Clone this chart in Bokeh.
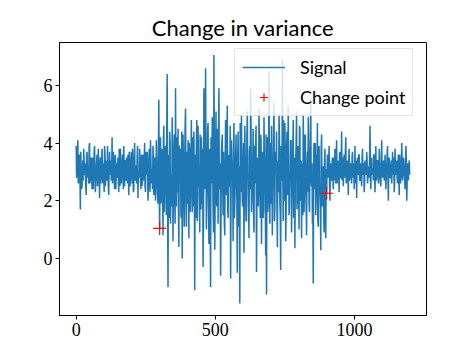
from bokeh.plotting import figure
from bokeh.models import Range1d, FixedTicker
from bokeh.embed import file_html
from bokeh.resources import INLINE

# ---- data ----
# samples at x = 0, 3, 6, ...
step = 3
seg_low1 = [3.9, 3.2, 4.1, 2.7, 3.6, 1.7, 3.0, 2.5, 3.4, 3.8, 2.9, 3.3, 2.2, 3.7, 3.1, 2.6, 4.0, 2.8, 3.5, 2.4,
            3.2, 2.9, 3.9, 2.3, 3.0, 3.6, 2.7, 3.3, 2.1, 3.5, 2.9, 3.8, 2.6, 3.1, 3.9, 2.5, 3.4, 2.8, 3.0, 2.2,
            3.7, 3.2, 2.7, 4.2, 2.9, 3.3, 2.4, 3.6, 3.0, 2.8, 3.5, 2.3, 3.1, 3.8, 2.6, 3.2, 2.9, 3.9, 2.5, 3.4,
            2.7, 3.0, 3.6, 2.2, 3.3, 2.9, 3.7, 2.6, 3.1, 2.4, 4.0, 2.8, 3.2, 3.5, 2.1, 3.0, 3.8, 2.7, 3.3, 2.5,
            3.6, 2.9, 4.0, 2.3, 3.2, 3.7, 2.0, 3.4, 2.8, 4.1, 2.6, 3.1, 3.9, 2.2, 3.5, 2.0, 4.1, 2.7, 1.9, 5.5]
seg_high = [1.04, 4.2, 2.1, 3.5, 0.8, 4.6, 2.4, 3.9, 1.5, 6.4,
            -1.0, 3.3, 4.4, 1.2, 2.8, 4.9, 0.6, 3.6, 2.2, 5.9,
            1.8, 3.1, 4.5, 0.4, 2.6, 3.8, 1.4, 0.0, 4.3, 2.0,
            3.4, 5.2, 1.1, 2.9, 4.1, 0.7, 3.7, 2.3, 4.8, 1.6,
            3.0, 4.4, -1.1, 2.7, 3.9, 1.3, 4.6, 2.5, 0.9, 3.6,
            4.2, 1.9, -0.3, 5.9, 2.4, 6.6, 1.0, 3.2, 4.7, 0.5,
            3.8, -1.0, 2.6, 4.9, 1.7, 7.06, 0.3, 3.4, 2.1, 4.5,
            1.2, 5.9, 2.8, -0.6, 3.7, 4.3, 1.5, 2.9, 0.8, 4.8,
            2.2, 5.3, 1.4, 3.6, 2.5, -0.7, 4.1, 3.0, 0.6, 4.7,
            1.9, 3.5, 2.7, -0.5, 4.4, 1.1, -1.56, 3.8, 5.0, 2.0,
            3.3, 0.2, 4.6, 2.4, 1.3, 5.1, 2.9, 0.7, 3.9, 5.9,
            1.6, 3.2, 4.5, 0.9, 2.6, 4.0, -0.47, 3.5, 1.8, 5.2,
            2.3, 4.3, 0.5, 3.7, 1.4, 4.9, 2.8, 0.1, -1.25, 4.2,
            2.0, 6.5, 1.2, 3.4, 4.6, 0.8, 2.7, 5.4, 1.7, 3.1,
            4.4, 0.4, 2.5, 5.0, 1.9, -0.4, 3.6, 6.9, 1.3, 2.9,
            4.7, 0.6, 3.8, 2.2, 5.3, 1.5, 3.0, 4.1, 0.9, 2.6,
            4.8, 1.8, 0.35, 3.5, 5.1, 2.1, 3.9, 1.0, 4.5, 2.7,
            0.7, 3.3, 5.0, 1.6, 4.2, 2.4, 0.8, 3.7, 4.9, 1.9,
            3.1, 5.5, 2.5, 1.2, -0.87, 4.0, 2.8, 1.5, 3.6, 4.7,
            1.1, 3.9, 2.3, 0.28, 4.3, 1.8, 3.2, 0.9, 3.8, 0.7]
seg_low2 = [2.26, 3.6, 2.8, 3.9, 2.0, 3.3, 2.7, 3.5, 2.4, 3.1,
            3.8, 2.6, 4.1, 2.9, 3.4, 2.3, 3.7, 2.8, 4.4, 3.0,
            2.5, 3.6, 3.2, 4.2, 2.7, 3.4, 2.2, 3.8, 2.9, 3.3,
            2.6, 3.7, 3.1, 2.4, 3.9, 2.8, 2.1, 3.5, 3.0, 3.6,
            2.7, 3.3, 2.5, 3.8, 3.0, 2.3, 3.4, 2.9, 3.7, 2.6,
            3.2, 2.8, 4.6, 2.4, 3.5, 3.1, 2.7, 3.6, 2.3, 3.9,
            2.9, 3.4, 2.6, 3.8, 3.1, 2.5, 4.1, 2.8, 3.3, 2.7,
            3.6, 2.4, 3.0, 3.9, 2.0, 3.5, 2.8, 3.2, 2.6, 3.7,
            3.1, 2.3, 3.8, 2.9, 3.4, 2.6, 3.6, 2.2, 3.3, 2.8,
            4.0, 2.7, 3.5, 3.0, 2.4, 3.9, 2.0, 3.3, 2.7, 3.4]
# in-between samples at x = 1.5, 4.5, 7.5, ...
mid_low1 = [2.8, 3.5, 2.6, 3.3, 2.9, 3.7, 2.4, 3.1, 2.7, 3.4,
            3.0, 2.5, 3.6, 2.8, 3.2, 3.9, 2.6, 3.3, 2.9, 3.5,
            2.4, 3.7, 3.0, 2.7, 3.4, 2.5, 3.8, 2.9, 3.2, 2.6,
            3.5, 2.8, 3.3, 2.3, 3.6, 3.0, 2.7, 3.9, 2.5, 3.2,
            2.9, 3.4, 3.1, 2.6, 3.7, 2.8, 3.5, 2.4, 3.3, 3.0,
            2.7, 3.8, 2.5, 3.2, 2.9, 3.6, 2.4, 3.1, 3.4, 2.8,
            3.5, 2.6, 3.0, 3.7, 2.5, 3.3, 2.9, 3.8, 2.3, 3.4,
            2.7, 3.2, 2.6, 3.9, 3.0, 2.8, 3.5, 2.4, 3.6, 3.1,
            2.7, 3.4, 2.5, 3.7, 2.9, 3.2, 2.6, 3.8, 2.3, 3.5,
            3.0, 2.4, 3.6, 2.8, 3.3, 2.6, 3.4, 2.2, 3.8, 2.1]
mid_high = [3.2, 1.9, 3.8, 2.4, 4.1, 1.6, 3.3, 2.7, 4.5, 2.0,
            3.6, 1.4, 4.0, 2.9, 1.8, 3.5, 2.5, 4.3, 1.2, 3.0,
            4.2, 2.3, 1.7, 3.9, 2.8, 1.5, 4.4, 2.6, 3.2, 1.1,
            4.6, 2.2, 3.7, 1.9, 2.9, 4.0, 1.6, 3.3, 2.5, 4.2,
            1.8, 2.7, 3.6, 1.4, 4.8, 2.1, 3.2, 2.9, 4.3, 1.7,
            2.6, 3.8, 1.3, 4.1, 2.8, 3.4, 1.9, 4.5, 2.3, 3.1,
            1.6, 4.2, 2.7, 3.6, 0.9, 3.9, 2.2, 5.1, 1.8, 3.0,
            4.4, 2.4, 3.3, 1.5, 4.0, 2.6, 3.7, 1.2, 3.5, 2.9,
            4.1, 1.7, 3.0, 2.5, 4.6, 1.9, 3.4, 2.8, 3.8, 1.4,
            2.7, 4.3, 2.0, 3.6, 1.6, 3.2, 4.7, 2.3, 3.0, 1.8,
            4.0, 2.6, 3.5, 1.3, 4.2, 2.9, 1.9, 3.7, 2.4, 4.4,
            2.1, 3.3, 1.5, 3.9, 2.7, 4.6, 1.8, 3.1, 2.5, 3.8,
            1.4, 4.1, 2.8, 3.4, 1.7, 3.6, 2.2, 4.3, 3.0, 1.6,
            3.5, 2.4, 4.0, 1.9, 3.2, 2.6, 4.5, 1.3, 3.7, 2.9,
            1.8, 3.4, 2.3, 4.2, 1.5, 3.9, 2.7, 3.1, 4.8, 2.0,
            3.3, 1.6, 4.4, 2.5, 3.6, 1.9, 3.0, 4.1, 2.2, 3.8,
            1.4, 3.5, 2.8, 4.0, 1.7, 3.2, 2.4, 4.6, 2.0, 3.4,
            2.9, 1.5, 3.9, 2.6, 4.3, 1.8, 3.1, 2.3, 3.7, 1.6,
            4.2, 2.7, 3.3, 1.9, 3.6, 2.4, 4.0, 2.1, 2.9, 1.3,
            3.5, 2.5, 1.8, 3.8, 2.2, 3.0, 1.6, 3.4, 2.0, 3.1]
mid_low2 = [3.0, 3.2, 3.4, 2.6, 3.1, 2.9, 3.3, 2.8, 3.5, 2.7,
            3.1, 3.4, 2.6, 3.2, 2.9, 3.6, 2.8, 3.3, 2.7, 3.5,
            3.1, 2.8, 3.7, 2.6, 3.2, 3.0, 3.4, 2.7, 3.1, 2.9,
            3.5, 2.8, 3.3, 3.0, 2.6, 3.4, 3.2, 2.9, 3.6, 2.7,
            3.1, 2.8, 3.5, 2.9, 3.3, 2.6, 3.2, 3.0, 3.4, 2.8,
            3.0, 3.5, 2.7, 3.3, 2.9, 3.1, 3.6, 2.8, 3.2, 2.7,
            3.4, 3.0, 2.8, 3.3, 2.6, 3.5, 2.9, 3.1, 3.4, 2.8,
            3.2, 2.9, 3.6, 2.7, 3.3, 3.0, 2.8, 3.4, 3.1, 2.9,
            3.5, 2.7, 3.2, 3.0, 2.8, 3.3, 2.9, 3.6, 2.6, 3.1,
            3.2, 2.9, 3.4, 2.8, 3.1, 3.3, 2.7, 3.0, 3.2, 2.9]
change_x = [300, 900]
change_y = [1.04, 2.26]
x_ticks = [0, 500, 1000]
y_ticks = [0, 2, 4, 6]

main = seg_low1 + seg_high + seg_low2
between = mid_low1 + mid_high + mid_low2
xs, signal = [], []
for i, (a, b) in enumerate(zip(main, between)):
    xs += [i * step, i * step + step / 2]
    signal += [a, b]

BLUE = "#1f77b4"
SERIF = "Liberation Serif"
SANS = "Lato"

p = figure(width=474, height=355, output_backend="svg", toolbar_location=None,
           x_range=Range1d(-60, 1259), y_range=Range1d(-1.98, 7.49),
           min_border_left=59, min_border_right=48, min_border_top=42, min_border_bottom=40,
           title="Change in variance")
p.line(xs, signal, line_color=BLUE, line_width=1.5, legend_label="Signal")
p.scatter(change_x, change_y, marker="cross", size=13, line_color="red", line_width=1.2,
          legend_label="Change point")

p.title.text_font = SANS
p.title.text_font_size = "22px"
p.title.text_font_style = "normal"
p.title.text_color = "black"
p.title.align = "center"
p.title.standoff = 3

p.grid.visible = False
p.outline_line_color = "black"
p.outline_line_width = 1
p.background_fill_color = "white"
p.border_fill_color = "white"

for ax in (p.xaxis[0], p.yaxis[0]):
    ax.axis_line_color = "black"
    ax.major_tick_line_color = "black"
    ax.major_tick_out = 4
    ax.major_tick_in = 0
    ax.minor_tick_out = 0
    ax.minor_tick_in = 0
    ax.major_label_text_font = SERIF
    ax.major_label_text_font_size = "18px"
    ax.major_label_text_color = "black"
    ax.major_label_standoff = 3
p.xaxis[0].ticker = FixedTicker(ticks=x_ticks)
p.yaxis[0].ticker = FixedTicker(ticks=y_ticks)

lg = p.legend[0]
lg.location = (175, 199)
lg.label_text_font = SANS
lg.label_text_font_size = "18px"
lg.label_text_color = "black"
lg.background_fill_alpha = 0.8
lg.border_line_color = "#cccccc"
lg.border_line_width = 1
lg.padding = 7
lg.spacing = 8
lg.margin = 0
lg.glyph_width = 43
lg.glyph_height = 20
lg.label_height = 20
lg.label_standoff = 15

open("out.html", "w").write(file_html(p, INLINE))
